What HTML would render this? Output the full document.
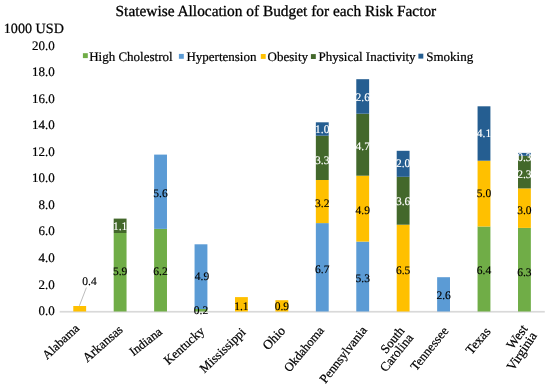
<!DOCTYPE html>
<html><head><meta charset="utf-8"><style>
html,body{margin:0;padding:0;background:#fff;overflow:hidden;width:548px;height:390px;}
svg{display:block;text-rendering:geometricPrecision;will-change:transform;font-family:"Liberation Serif",serif;}
</style></head><body>
<svg width="548" height="390" viewBox="0 0 548 390">
<rect width="548" height="390" fill="#fff"/>
<text x="275.9" y="16.3" text-anchor="middle" font-size="15.38" fill="#000" stroke="#000" stroke-width="0.3">Statewise Allocation of Budget for each Risk Factor</text>
<text x="3.8" y="33.0" font-size="14.15" fill="#000" stroke="#000" stroke-width="0.22">1000 USD</text>
<g font-size="13" fill="#000" stroke="#000" stroke-width="0.22" text-anchor="end"><text x="54.8" y="315.10">0.0</text><text x="54.8" y="288.56">2.0</text><text x="54.8" y="262.02">4.0</text><text x="54.8" y="235.48">6.0</text><text x="54.8" y="208.94">8.0</text><text x="54.8" y="182.40">10.0</text><text x="54.8" y="155.86">12.0</text><text x="54.8" y="129.32">14.0</text><text x="54.8" y="102.78">16.0</text><text x="54.8" y="76.24">18.0</text><text x="54.8" y="49.70">20.0</text></g>
<g font-size="13" fill="#000" stroke="#000" stroke-width="0.22"><rect x="82.9" y="53.2" width="4.9" height="4.9" fill="#70AD47" stroke="none"/><text x="89.2" y="60.5">High Cholestrol</text><rect x="178.9" y="53.9" width="4.9" height="4.9" fill="#5B9BD5" stroke="none"/><text x="186.4" y="60.5">Hypertension</text><rect x="260.8" y="54.0" width="4.9" height="4.9" fill="#FFC000" stroke="none"/><text x="267.6" y="60.5">Obesity</text><rect x="310.9" y="54.1" width="4.9" height="4.9" fill="#43682B" stroke="none"/><text x="318.5" y="60.5">Physical Inactivity</text><rect x="418.4" y="53.7" width="4.9" height="4.9" fill="#255E91" stroke="none"/><text x="426.2" y="60.5">Smoking</text></g>
<rect x="59.7" y="310.9" width="485.1" height="1.7" fill="#d9d9d9"/>
<rect x="73.28" y="306.00" width="12.85" height="5.50" fill="#FFC000"/><rect x="113.70" y="233.00" width="12.85" height="78.50" fill="#70AD47"/><rect x="113.70" y="218.60" width="12.85" height="14.40" fill="#43682B"/><rect x="154.13" y="228.90" width="12.85" height="82.60" fill="#70AD47"/><rect x="154.13" y="154.60" width="12.85" height="74.30" fill="#5B9BD5"/><rect x="194.56" y="309.00" width="12.85" height="2.50" fill="#70AD47"/><rect x="194.56" y="244.30" width="12.85" height="64.70" fill="#5B9BD5"/><rect x="235.00" y="297.10" width="12.85" height="14.40" fill="#FFC000"/><rect x="275.43" y="300.20" width="12.85" height="11.30" fill="#FFC000"/><rect x="315.85" y="223.10" width="12.85" height="88.40" fill="#5B9BD5"/><rect x="315.85" y="180.00" width="12.85" height="43.10" fill="#FFC000"/><rect x="315.85" y="135.70" width="12.85" height="44.30" fill="#43682B"/><rect x="315.85" y="122.30" width="12.85" height="13.40" fill="#255E91"/><rect x="356.28" y="241.60" width="12.85" height="69.90" fill="#5B9BD5"/><rect x="356.28" y="175.70" width="12.85" height="65.90" fill="#FFC000"/><rect x="356.28" y="113.70" width="12.85" height="62.00" fill="#43682B"/><rect x="356.28" y="79.20" width="12.85" height="34.50" fill="#255E91"/><rect x="396.71" y="224.70" width="12.85" height="86.80" fill="#FFC000"/><rect x="396.71" y="176.80" width="12.85" height="47.90" fill="#43682B"/><rect x="396.71" y="150.80" width="12.85" height="26.00" fill="#255E91"/><rect x="437.14" y="277.20" width="12.85" height="34.30" fill="#5B9BD5"/><rect x="477.57" y="226.50" width="12.85" height="85.00" fill="#70AD47"/><rect x="477.57" y="160.70" width="12.85" height="65.80" fill="#FFC000"/><rect x="477.57" y="106.30" width="12.85" height="54.40" fill="#255E91"/><rect x="518.01" y="227.90" width="12.85" height="83.60" fill="#70AD47"/><rect x="518.01" y="188.40" width="12.85" height="39.50" fill="#FFC000"/><rect x="518.01" y="155.80" width="12.85" height="32.60" fill="#43682B"/><rect x="518.01" y="152.90" width="12.85" height="2.90" fill="#255E91"/>
<g font-size="11.5" text-anchor="middle" fill="#000" stroke="#000" stroke-width="0.15"><text x="120.13" y="275.20">5.9</text><text x="120.13" y="229.80" fill="#fff" stroke="#fff">1.1</text><text x="160.56" y="275.20">6.2</text><text x="160.56" y="197.00">5.6</text><text x="200.99" y="314.30">0.2</text><text x="201.99" y="280.20">4.9</text><text x="241.42" y="309.80">1.1</text><text x="281.85" y="310.00">0.9</text><text x="322.28" y="272.50">6.7</text><text x="322.28" y="207.00">3.2</text><text x="322.28" y="163.50" fill="#fff" stroke="#fff">3.3</text><text x="322.28" y="132.70" fill="#fff" stroke="#fff">1.0</text><text x="362.71" y="282.00">5.3</text><text x="362.71" y="213.80">4.9</text><text x="362.71" y="149.80" fill="#fff" stroke="#fff">4.7</text><text x="362.71" y="100.50" fill="#fff" stroke="#fff">2.6</text><text x="403.14" y="273.70">6.5</text><text x="403.14" y="205.20" fill="#fff" stroke="#fff">3.6</text><text x="403.14" y="166.60" fill="#fff" stroke="#fff">2.0</text><text x="443.57" y="298.70">2.6</text><text x="484.00" y="274.20">6.4</text><text x="484.00" y="197.00">5.0</text><text x="484.00" y="136.70" fill="#fff" stroke="#fff">4.1</text><text x="524.43" y="276.00">6.3</text><text x="524.43" y="213.80">3.0</text><text x="524.43" y="178.20" fill="#fff" stroke="#fff">2.3</text><text x="524.43" y="161.30" fill="#fff" stroke="#fff">0.3</text><line x1="79.4" y1="305.8" x2="86.4" y2="287.6" stroke="#a6a6a6" stroke-width="0.75"/><text x="82.3" y="285.0" text-anchor="start">0.4</text></g>
<g fill="#000" stroke="#000" stroke-width="0.22"><text transform="translate(80.05,329.15) rotate(-43.0)" text-anchor="end" font-size="12.5">Alabama</text><text transform="translate(123.70,330.90) rotate(-41.0)" text-anchor="end" font-size="13">Arkansas</text><text transform="translate(162.95,333.25) rotate(-38.0)" text-anchor="end" font-size="12.5">Indiana</text><text transform="translate(205.25,332.20) rotate(-42.0)" text-anchor="end" font-size="12.75">Kentucky</text><text transform="translate(246.35,333.05) rotate(-44.0)" text-anchor="end" font-size="12.75">Mississippi</text><text transform="translate(285.95,331.30) rotate(-47.0)" text-anchor="end" font-size="13.25">Ohio</text><text transform="translate(324.65,330.70) rotate(-50.0)" text-anchor="end" font-size="12.5">Okdahoma</text><text transform="translate(367.45,330.40) rotate(-52.0)" text-anchor="end" font-size="12.75">Pennsylvania</text><text transform="translate(404.90,331.10) rotate(-51.0)" text-anchor="end" font-size="12.75">South</text><text transform="translate(413.85,338.00) rotate(-51.0)" text-anchor="end" font-size="13">Carolina</text><text transform="translate(449.00,331.00) rotate(-51.0)" text-anchor="end" font-size="12.75">Tennessee</text><text transform="translate(491.20,331.75) rotate(-50.0)" text-anchor="end" font-size="13.25">Texas</text><text transform="translate(528.25,328.85) rotate(-54.0)" text-anchor="end" font-size="13.25">West</text><text transform="translate(537.40,335.70) rotate(-56.0)" text-anchor="end" font-size="13.25">Virginia</text></g>
</svg>
</body></html>
